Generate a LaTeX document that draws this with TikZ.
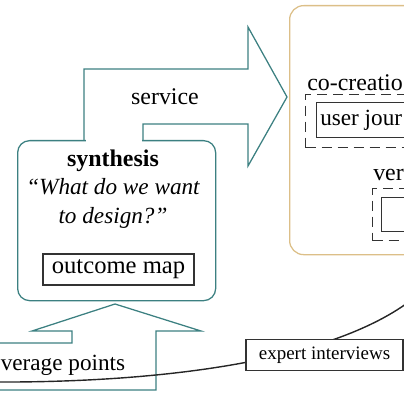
\documentclass[tikz,border=0pt]{standalone}
\usepackage{fontspec}
\setmainfont{Liberation Serif}
\usepackage{tikz}
\usetikzlibrary{positioning}
\definecolor{flowteal}{HTML}{3C8081}
\definecolor{sessiontan}{HTML}{DCBF88}
\tikzset{
  flow-arrow/.style={draw=flowteal, line width=0.9pt, line join=miter},
  phase-frame/.style={draw=flowteal, line width=0.9pt, rounded corners=3mm, anchor=north west, inner sep=0pt},
  session-frame/.style={draw=sessiontan, line width=0.9pt, rounded corners=3.5mm, anchor=north west, inner sep=0pt},
  method-group/.style={draw=black!80, line width=0.9pt, dash pattern=on 2.5mm off 1.5mm, anchor=north west, inner sep=0pt},
  tool-box/.style={draw=black!80, line width=0.9pt, fill=white, inner sep=0pt, font=\fontsize{17.5}{20}\selectfont},
  diagram-text/.style={inner sep=0pt, font=\fontsize{17}{20}\selectfont},
  loop-line/.style={draw=black!85, line width=1pt}
}

\begin{document}
\begin{tikzpicture}[x=0.25mm, y=-0.25mm]
  \useasboundingbox (0,0) rectangle (404,404);
  \clip (0,0) rectangle (404,404);

  % synthesis phase
  \node[phase-frame, minimum width=49.5mm, minimum height=40mm] (synth) at (17,140) {};
  \fill[white] (85.5,137) rectangle (141.5,143);
  \node[diagram-text, font=\fontsize{17}{20}\selectfont\bfseries] (synthtitle) at (113,161) {synthesis};
  \node[diagram-text, font=\fontsize{16.5}{20}\selectfont\itshape] (synthq1) at (113,187) {“What do we want};
  \node[diagram-text, font=\fontsize{16.5}{20}\selectfont\itshape] (synthq2) at (113,218) {to design?”};
  \node[tool-box, minimum width=37.75mm, minimum height=7.75mm] (outcome) at (118.5,269.5) {outcome map};

  % service arrow
  \draw[flow-arrow] (84,140) -- (84,69) -- (248,69) -- (248,27) -- (287,97) -- (248,166) -- (248,124) -- (143,124) -- (143,140);
  \node[diagram-text] (service) at (165,97) {service};

  % leverage arrow
  \draw[flow-arrow] (-5,343) -- (72,343) -- (72,331) -- (32,331) -- (115,304) -- (201,331) -- (156,331) -- (156,390) -- (-5,390);
  \node[diagram-text, anchor=west, font=\fontsize{16.5}{20}\selectfont] (leverage) at (0.5,365) {verage points};

  % co-creation session
  \node[session-frame, minimum width=36mm, minimum height=62.25mm] (session) at (289,5) {};
  \node[diagram-text, anchor=west] (cocreate) at (307,83) {co-creatio};
  \node[method-group, minimum width=30mm, minimum height=13.25mm] (cocreategroup) at (305,94) {};
  \node[tool-box, minimum width=30mm, minimum height=8.75mm, anchor=north west] (journey) at (316,102) {};
  \node[diagram-text, anchor=west, font=\fontsize{16.5}{20}\selectfont] (journeytext) at (320,120) {user jour};
  \node[diagram-text, anchor=west] (verify) at (373,175) {ver};
  \node[method-group, minimum width=10mm, minimum height=13mm] (verifygroup) at (372,188) {};
  \node[tool-box, anchor=north west, minimum width=8mm, minimum height=8.5mm] (verifytool) at (381,197) {};

  % feedback loop
  \coordinate (loopstart) at (-10,382);
  \coordinate (loopend) at (414,298);
  \draw[loop-line] (loopstart) .. controls (150,383) and (330,364) .. (loopend);
  \node[tool-box, font=\fontsize{13.5}{16}\selectfont, minimum width=39.25mm, minimum height=7.75mm] (expert) at (324.5,355) {expert interviews};
\end{tikzpicture}
\end{document}
